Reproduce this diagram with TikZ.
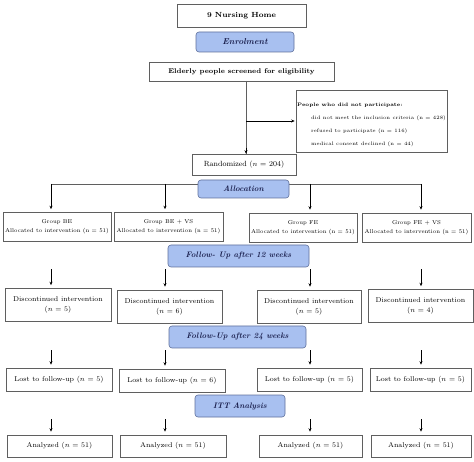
\documentclass[tikz,border=0pt]{standalone}
\usepackage{tikz}
\usetikzlibrary{calc, arrows.meta}
\definecolor{boxline}{RGB}{95, 95, 95}
\definecolor{phase}{RGB}{168, 192, 240}
\definecolor{phaseline}{RGB}{95, 112, 155}
\definecolor{navy}{RGB}{26, 31, 77}

\tikzset{
  box/.style={draw=boxline, fill=white, align=center, inner sep=1pt,
    font=\fontsize{7}{10}\selectfont},
  phasebox/.style={draw=phaseline, fill=phase, rounded corners=3pt, text=navy,
    font=\fontsize{8}{9}\selectfont\bfseries\itshape},
  arr/.style={-{Stealth[length=3.5pt, width=3pt]}, shorten <=2pt, shorten >=3pt}
}

\begin{document}
\begin{tikzpicture}[x=1pt, y=-1pt, line width=0.6pt]
  \useasboundingbox (0, 0) rectangle (474, 462);

  % columns of the four arms
  \coordinate (c1) at (51, 0);
  \coordinate (c2) at (165, 0);
  \coordinate (c3) at (310, 0);
  \coordinate (c4) at (421, 0);

  % enrolment
  \node[box, minimum width=129, minimum height=23, font=\fontsize{7.4}{9}\selectfont\bfseries]
    (home) at (241.5, 15.5) {9 Nursing Home};
  \node[phasebox, minimum width=98, minimum height=20, font=\fontsize{8.6}{9}\selectfont\bfseries\itshape]
    (enrol) at (245, 42) {Enrolment};
  \node[box, minimum width=185, minimum height=19, font=\fontsize{6.9}{8}\selectfont\bfseries]
    (screen) at (241.5, 71.5) {Elderly people screened for eligibility};
  \node[box, minimum width=151, minimum height=62, align=left,
    font=\fontsize{5}{13}\selectfont]
    (excl) at (371.5, 121) {\rule{0pt}{12pt}\textbf{People who did not participate:}\\
      \hspace{14pt}did not meet the inclusion criteria (n = 428)\\
      \hspace{14pt}refused to participate (n = 116)\\
      \hspace{14pt}medical consent declined (n = 44)};
  \node[box, minimum width=104, minimum height=21, font=\fontsize{7.5}{9}\selectfont]
    (rand) at (244, 164.5) {Randomized ($n$ = 204)};

  \coordinate (trunk) at (246, 81);
  \draw[boxline] (trunk) -- (trunk |- rand.north);
  \draw[arr, black, shorten <=0pt, shorten >=0pt] ($(trunk |- rand.north)+(0,-6)$) -- (trunk |- rand.north);
  \draw[arr, shorten <=0pt, shorten >=1pt] (trunk |- excl.west) -- (excl.west);

  % allocation
  \coordinate (split) at (0, 184);
  \draw[boxline] (c1 |- split) -- (c4 |- split);
  \node[phasebox, minimum width=91, minimum height=18] (alloc) at (243.5, 189) {Allocation};

  \node[box, minimum width=108, minimum height=29, font=\fontsize{5.6}{9}\selectfont]
    (g1) at (57, 227) {Group BE\\Allocated to intervention (n = 51)};
  \node[box, minimum width=109, minimum height=29, font=\fontsize{5.6}{9}\selectfont]
    (g2) at (168.5, 227) {Group BE + VS\\Allocated to intervention (n = 51)};
  \node[box, minimum width=108, minimum height=29, font=\fontsize{5.6}{9}\selectfont]
    (g3) at (303, 227.5) {Group FE\\Allocated to intervention (n = 51)};
  \node[box, minimum width=109, minimum height=29, font=\fontsize{5.6}{9}\selectfont]
    (g4) at (416.5, 227.5) {Group FE + VS\\Allocated to intervention (n = 51)};

  % follow-up after 12 weeks
  \node[phasebox, minimum width=141, minimum height=22] (fu12) at (238.5, 256) {Follow- Up after 12 weeks};
  \node[box, minimum width=106, minimum height=33] (d1) at (58, 305) {Discontinued intervention\\($n$ = 5)};
  \node[box, minimum width=105, minimum height=33] (d2) at (169.5, 306.5) {Discontinued intervention\\($n$ = 6)};
  \node[box, minimum width=104, minimum height=33] (d3) at (309, 306.5) {Discontinued intervention\\($n$ = 5)};
  \node[box, minimum width=105, minimum height=33] (d4) at (420.5, 306) {Discontinued intervention\\($n$ = 4)};

  % follow-up after 24 weeks
  \node[phasebox, minimum width=137, minimum height=22] (fu24) at (237.5, 337) {Follow-Up after 24 weeks};
  \node[box, minimum width=106, minimum height=23] (l1) at (59, 379.5) {Lost to follow-up ($n$ = 5)};
  \node[box, minimum width=106, minimum height=23] (l2) at (172, 380.5) {Lost to follow-up ($n$ = 6)};
  \node[box, minimum width=105, minimum height=23] (l3) at (309.5, 379.5) {Lost to follow-up ($n$ = 5)};
  \node[box, minimum width=101, minimum height=23] (l4) at (420.5, 379.5) {Lost to follow-up ($n$ = 5)};

  % analysis
  \node[phasebox, minimum width=90, minimum height=22] (itt) at (240, 406) {ITT Analysis};
  \node[box, minimum width=105, minimum height=22] (a1) at (59.5, 446) {Analyzed ($n$ = 51)};
  \node[box, minimum width=106, minimum height=22] (a2) at (173, 446) {Analyzed ($n$ = 51)};
  \node[box, minimum width=103, minimum height=22] (a3) at (310.5, 446) {Analyzed ($n$ = 51)};
  \node[box, minimum width=100, minimum height=22] (a4) at (421, 446) {Analyzed ($n$ = 51)};

  % arrows down each arm
  \foreach \c/\g/\d/\l/\a in {c1/g1/d1/l1/a1, c2/g2/d2/l2/a2, c3/g3/d3/l3/a3, c4/g4/d4/l4/a4} {
    \draw[arr, shorten <=0pt] (\c |- split) -- (\c |- \g.north);
    \draw[arr] (\c |- fu12.south) -- (\c |- \d.north);
    \draw[arr] (\c |- fu24.south) -- (\c |- \l.north);
    \draw[arr] (\c |- itt.south) -- (\c |- \a.north);
  }
\end{tikzpicture}
\end{document}
